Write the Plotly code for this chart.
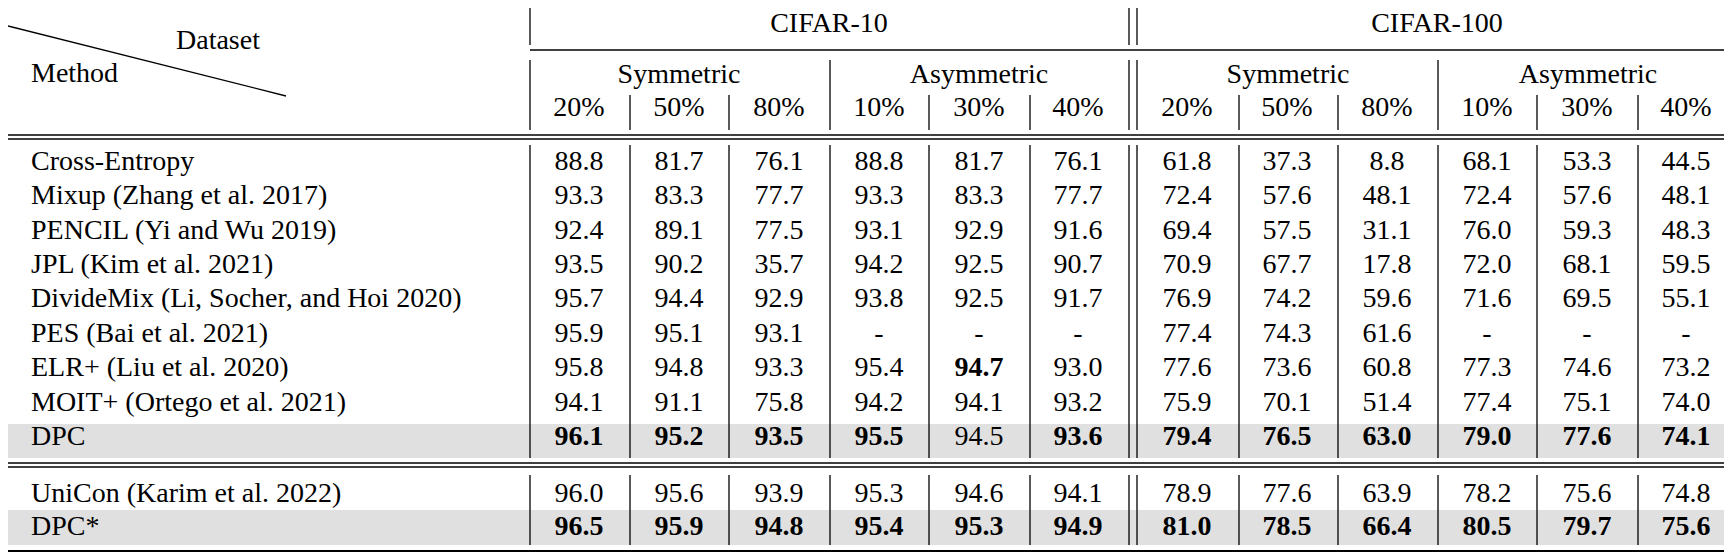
import plotly.graph_objects as go

methods = ["Cross-Entropy", "Mixup (Zhang et al. 2017)", "PENCIL (Yi and Wu 2019)", "JPL (Kim et al. 2021)",
           "DivideMix (Li, Socher, and Hoi 2020)", "PES (Bai et al. 2021)", "ELR+ (Liu et al. 2020)",
           "MOIT+ (Ortego et al. 2021)", "DPC", "UniCon (Karim et al. 2022)", "DPC*"]
values = [
    ["88.8","81.7","76.1","88.8","81.7","76.1","61.8","37.3","8.8","68.1","53.3","44.5"],
    ["93.3","83.3","77.7","93.3","83.3","77.7","72.4","57.6","48.1","72.4","57.6","48.1"],
    ["92.4","89.1","77.5","93.1","92.9","91.6","69.4","57.5","31.1","76.0","59.3","48.3"],
    ["93.5","90.2","35.7","94.2","92.5","90.7","70.9","67.7","17.8","72.0","68.1","59.5"],
    ["95.7","94.4","92.9","93.8","92.5","91.7","76.9","74.2","59.6","71.6","69.5","55.1"],
    ["95.9","95.1","93.1","-","-","-","77.4","74.3","61.6","-","-","-"],
    ["95.8","94.8","93.3","95.4","94.7","93.0","77.6","73.6","60.8","77.3","74.6","73.2"],
    ["94.1","91.1","75.8","94.2","94.1","93.2","75.9","70.1","51.4","77.4","75.1","74.0"],
    ["96.1","95.2","93.5","95.5","94.5","93.6","79.4","76.5","63.0","79.0","77.6","74.1"],
    ["96.0","95.6","93.9","95.3","94.6","94.1","78.9","77.6","63.9","78.2","75.6","74.8"],
    ["96.5","95.9","94.8","95.4","95.3","94.9","81.0","78.5","66.4","80.5","79.7","75.6"],
]
bold = [[False]*12 for _ in methods]
bold[6][4] = True
bold[8] = [True]*12; bold[8][4] = False
bold[10] = [True]*12
datasets = ["CIFAR-10", "CIFAR-100"]
noise_types = ["Symmetric", "Asymmetric", "Symmetric", "Asymmetric"]
rates = ["20%","50%","80%","10%","30%","40%","20%","50%","80%","10%","30%","40%"]

# geometry in pixels
W, H = 1732, 557
colx = [571, 671, 771, 871, 971, 1070, 1179, 1279, 1379, 1479, 1579, 1678]
rowy = [155, 189, 224, 258, 292, 327, 361, 396, 430, 487, 520]
FONT = "Liberation Serif"
FS = 28

fig = go.Figure()
shapes = []
def line(x0, y0, x1, y1, w=1.3):
    shapes.append(dict(type="line", x0=x0, y0=y0, x1=x1, y1=y1, xref="x", yref="y",
                       line=dict(color="black", width=w)))
def vline(x, segs):
    for a, b in segs:
        line(x, a, x, b)
for y0, y1 in ((416, 450), (502, 537)):
    shapes.append(dict(type="rect", x0=0, x1=1729, y0=y0, y1=y1, xref="x", yref="y",
                       fillcolor="#e0e0e0", line=dict(width=0), layer="below"))

body = [(137, 450), (467, 537)]
line(0, 18, 278, 88)
for x in (522, 1121, 1129):
    vline(x, [(0, 37), (52, 122)] + body)
line(522, 42, 1729, 42)
for x in (822, 1430):
    vline(x, [(52, 122)] + body)
for x in (622, 721, 921, 1022, 1231, 1330, 1529, 1630):
    vline(x, [(87, 122)] + body)
line(0, 127, 1729, 127); line(0, 131, 1729, 131)
line(0, 455, 1729, 455); line(0, 459, 1729, 459)
line(0, 543, 1729, 543, 2); line(0, 551, 1729, 551, 2)

tf = dict(family=FONT, size=FS, color="black")
fig.add_trace(go.Scatter(x=[821, 1429], y=[17, 17], text=datasets, mode="text", textfont=tf, hoverinfo="skip"))
fig.add_trace(go.Scatter(x=[671, 971, 1280, 1580], y=[68]*4, text=noise_types, mode="text",
                         textfont=tf, hoverinfo="skip"))
fig.add_trace(go.Scatter(x=colx, y=[101]*12, text=rates, mode="text", textfont=tf, hoverinfo="skip"))
fig.add_trace(go.Scatter(x=[210, 23], y=[34, 67], text=["Dataset", "Method"], mode="text",
                         textposition=["middle center", "middle right"], textfont=tf, hoverinfo="skip"))
fig.add_trace(go.Scatter(x=[23]*len(methods), y=rowy, text=methods, mode="text",
                         textposition="middle right", textfont=tf, hoverinfo="skip"))
xs, ys, ts = [], [], []
for i, row in enumerate(values):
    for j, v in enumerate(row):
        xs.append(colx[j]); ys.append(rowy[i])
        ts.append(f"<b>{v}</b>" if bold[i][j] else v)
fig.add_trace(go.Scatter(x=xs, y=ys, text=ts, mode="text", textfont=tf, hoverinfo="skip"))

fig.update_layout(width=W, height=H, margin=dict(l=0, r=0, t=0, b=0), showlegend=False,
                  plot_bgcolor="white", paper_bgcolor="white", shapes=shapes,
                  xaxis=dict(range=[0, W], visible=False, fixedrange=True),
                  yaxis=dict(range=[H, 0], visible=False, fixedrange=True))
fig.write_html("out.html")
